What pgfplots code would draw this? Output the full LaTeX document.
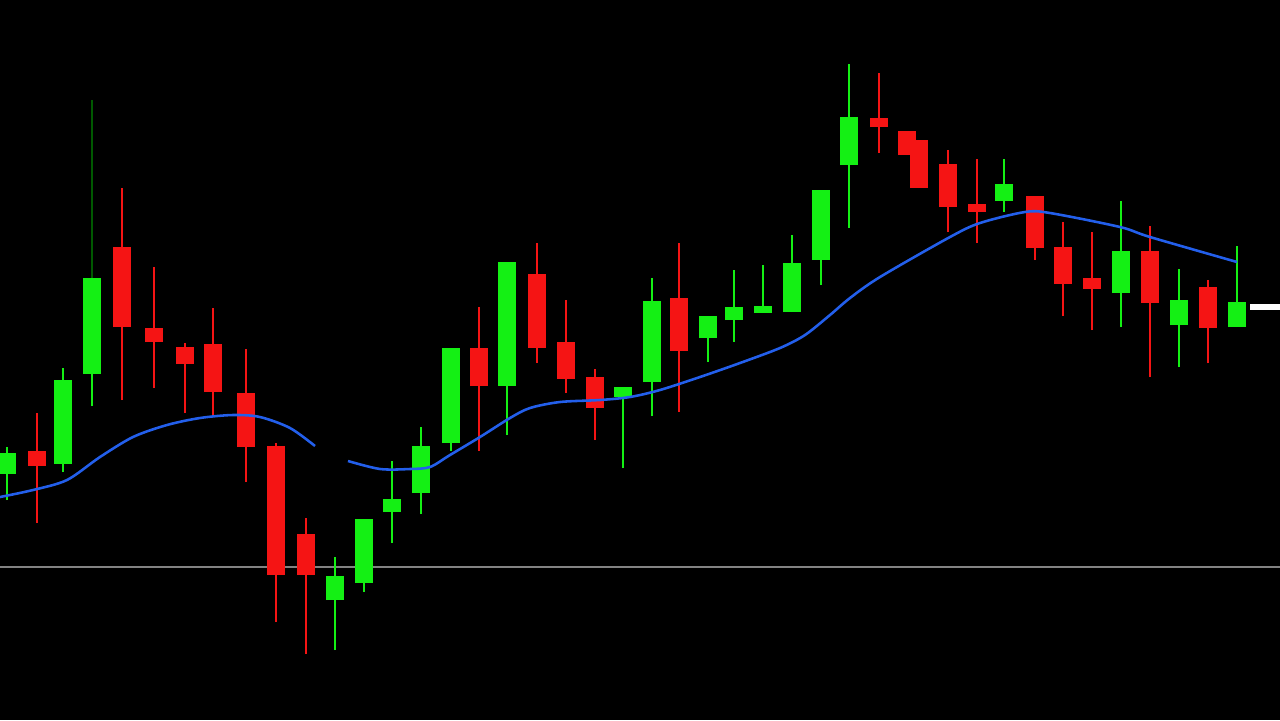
\documentclass[border=0pt]{standalone}
\usepackage{pgfplots}
\usepackage{pgfplotstable}
\pgfplotsset{compat=1.18}
\definecolor{cgreen}{RGB}{20,240,20}
\definecolor{cred}{RGB}{245,20,20}
\definecolor{cblue}{RGB}{35,95,235}
\definecolor{cgrey}{RGB}{130,130,130}

% candles: x, wick low/high, body low/high
\pgfplotstableread{
x    wl  wh  bl  bh
7    220 273 246 267
63   248 352 256 340
92   314 442 346 442
335  70  163 120 144
364  128 201 137 201
392  177 259 208 221
421  206 293 227 274
451  269 372 277 372
507  285 458 334 458
623  252 333 323 333
652  304 442 338 419
708  358 404 382 404
734  378 450 400 413
763  407 455 407 414
792  408 485 408 457
821  435 530 460 530
849  492 656 555 603
1004 508 561 519 536
1121 393 519 427 469
1179 353 451 395 420
1237 393 474 393 418
}\greentab

\pgfplotstableread{
x    wl  wh  bl  bh
37   197 307 254 269
122  320 532 393 473
154  332 453 378 392
185  307 377 356 373
213  305 412 328 376
246  238 371 273 327
276  98  277 145 274
306  66  202 145 186
479  269 413 334 372
537  357 477 372 446
566  327 420 341 378
595  280 351 312 343
679  308 477 369 422
879  567 647 593 602
907  565 589 565 589
919  532 580 532 580
948  488 570 513 556
977  477 561 508 516
1035 460 524 472 524
1063 404 498 436 473
1092 390 488 431 442
1150 343 494 417 469
1208 357 440 392 433
}\redtab

\pgfplotsset{candle/.style={only marks, mark=*, mark options={draw opacity=0, fill opacity=0},
    error bars/.cd, y dir=plus, y explicit, error mark=none}}

\begin{document}
\begin{tikzpicture}
\fill[black] (0,0) rectangle (16cm,9cm);
\begin{axis}[at={(0,0)}, anchor=south west,
    width=16cm, height=9cm, scale only axis,
    xmin=0, xmax=1280, ymin=0, ymax=720,
    hide axis, clip=true]

% grey level line
\addplot[cgrey, line width=0.25mm] coordinates {(0,153) (1280,153)};

% faint upper wick
\addplot[green!35!black, line width=0.25mm] coordinates {(92,442) (92,620)};

% green wicks and bodies
\addplot[candle, error bar style={cgreen, line width=0.25mm}]
    table[x=x, y=wl, y error expr=\thisrow{wh}-\thisrow{wl}] {\greentab};
\addplot[candle, error bar style={cgreen, line width=2.25mm}]
    table[x=x, y=bl, y error expr=\thisrow{bh}-\thisrow{bl}] {\greentab};

% red wicks and bodies
\addplot[candle, error bar style={cred, line width=0.25mm}]
    table[x=x, y=wl, y error expr=\thisrow{wh}-\thisrow{wl}] {\redtab};
\addplot[candle, error bar style={cred, line width=2.25mm}]
    table[x=x, y=bl, y error expr=\thisrow{bh}-\thisrow{bl}] {\redtab};

% moving average
\addplot[cblue, line width=0.32mm, smooth] coordinates {
(0,223) (33,230) (67,240) (100,263) (133,283) (167,295) (200,302) (233,305)
(260,303) (290,292) (315,274)};
\addplot[cblue, line width=0.32mm, smooth] coordinates {
(348,259) (380,251) (410,251) (430,253) (450,265) (480,283) (510,302) (530,312)
(560,318) (600,320) (630,323) (660,330) (700,343) (740,357) (780,372) (805,385)
(830,405) (850,422) (880,443) (950,483) (980,497) (1025,508) (1050,507)
(1120,493) (1150,483) (1237,458)};

% current price marker
\addplot[white, line width=0.75mm] coordinates {(1250,413) (1280,413)};
\end{axis}
\end{tikzpicture}
\end{document}
